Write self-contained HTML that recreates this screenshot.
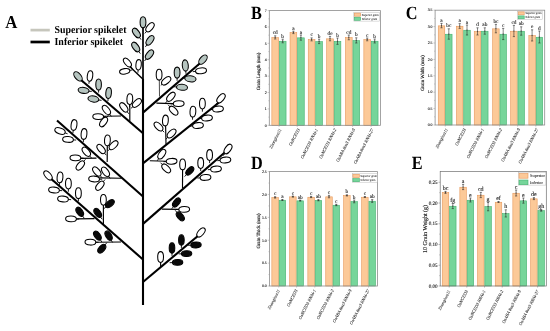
<!DOCTYPE html>
<html><head><meta charset="utf-8"><title>Figure</title>
<style>html,body{margin:0;padding:0;background:#fff}svg{display:block;text-rendering:geometricPrecision}</style></head>
<body><svg width="550" height="331" viewBox="0 0 550 331">
<rect width="550" height="331" fill="#fff"/>
<g id="panelA">
<line x1="143.0" y1="27" x2="143.0" y2="80" stroke="#000" stroke-width="1.7" stroke-linecap="butt"/>
<line x1="143.0" y1="79" x2="143.0" y2="305" stroke="#000" stroke-width="2.1" stroke-linecap="butt"/>
<line x1="80.5" y1="79.5" x2="143.0" y2="133.3" stroke="#000" stroke-width="2.1" stroke-linecap="butt"/>
<line x1="57" y1="120.5" x2="143.0" y2="196.5" stroke="#000" stroke-width="2.1" stroke-linecap="butt"/>
<line x1="48.5" y1="176.5" x2="143.0" y2="259.5" stroke="#000" stroke-width="2.1" stroke-linecap="butt"/>
<line x1="143.0" y1="112.6" x2="202" y2="61.5" stroke="#000" stroke-width="2.1" stroke-linecap="butt"/>
<line x1="143.0" y1="163.4" x2="219" y2="102.5" stroke="#000" stroke-width="2.1" stroke-linecap="butt"/>
<line x1="143.0" y1="223.9" x2="227" y2="150.5" stroke="#000" stroke-width="2.1" stroke-linecap="butt"/>
<line x1="143.0" y1="282" x2="199" y2="235" stroke="#000" stroke-width="2.1" stroke-linecap="butt"/>
<line x1="143.0" y1="79.3" x2="130" y2="66.7" stroke="#000" stroke-width="1.4" stroke-linecap="butt"/>
<line x1="129.8" y1="121" x2="129.8" y2="105" stroke="#000" stroke-width="1.15" stroke-linecap="butt"/>
<line x1="121" y1="116" x2="103" y2="116.3" stroke="#000" stroke-width="1.15" stroke-linecap="butt"/>
<line x1="159.5" y1="96.5" x2="159.3" y2="79" stroke="#000" stroke-width="0.7" stroke-linecap="butt"/>
<line x1="156.4" y1="103.1" x2="173" y2="103.6" stroke="#000" stroke-width="1.15" stroke-linecap="butt"/>
<line x1="107.2" y1="162" x2="107.3" y2="146" stroke="#000" stroke-width="1.15" stroke-linecap="butt"/>
<line x1="96.5" y1="158.1" x2="81" y2="158.4" stroke="#000" stroke-width="1.15" stroke-linecap="butt"/>
<line x1="121.5" y1="178.3" x2="99.5" y2="177.9" stroke="#000" stroke-width="1.15" stroke-linecap="butt"/>
<line x1="166" y1="144.2" x2="165.6" y2="125.4" stroke="#000" stroke-width="1.15" stroke-linecap="butt"/>
<line x1="149.8" y1="160.7" x2="166.4" y2="161.3" stroke="#000" stroke-width="1.15" stroke-linecap="butt"/>
<line x1="103.4" y1="224" x2="103.4" y2="205" stroke="#000" stroke-width="1.15" stroke-linecap="butt"/>
<line x1="94.5" y1="218.6" x2="76" y2="218.9" stroke="#000" stroke-width="1.15" stroke-linecap="butt"/>
<line x1="121" y1="242" x2="95.3" y2="242.2" stroke="#000" stroke-width="1.15" stroke-linecap="butt"/>
<line x1="182.5" y1="188" x2="182.6" y2="169.3" stroke="#000" stroke-width="1.15" stroke-linecap="butt"/>
<line x1="161.8" y1="209.1" x2="179" y2="209.4" stroke="#000" stroke-width="1.15" stroke-linecap="butt"/>
<line x1="160.7" y1="267" x2="160.6" y2="262" stroke="#000" stroke-width="1.15" stroke-linecap="butt"/>
<ellipse cx="143.0" cy="22.3" rx="2.90" ry="5.60" fill="#b6c5c0" stroke="#000" stroke-width="1.05" transform="rotate(0 143.0 22.3)"/>
<line x1="146.9" y1="31.0" x2="144.8" y2="33.4" stroke="#000" stroke-width="0.9"/>
<ellipse cx="150" cy="27.2" rx="2.90" ry="5.40" fill="#ffffff" stroke="#000" stroke-width="1.05" transform="rotate(40 150 27.2)"/>
<line x1="139.2" y1="37.0" x2="141.0" y2="39.6" stroke="#000" stroke-width="0.9"/>
<ellipse cx="136.4" cy="33" rx="2.90" ry="5.40" fill="#b6c5c0" stroke="#000" stroke-width="1.05" transform="rotate(-35 136.4 33)"/>
<line x1="147.2" y1="44.3" x2="145.4" y2="46.9" stroke="#000" stroke-width="0.9"/>
<ellipse cx="150" cy="40.3" rx="2.90" ry="5.40" fill="#b6c5c0" stroke="#000" stroke-width="1.05" transform="rotate(35 150 40.3)"/>
<line x1="138.5" y1="51.0" x2="140.3" y2="53.6" stroke="#000" stroke-width="0.9"/>
<ellipse cx="135.7" cy="47" rx="2.90" ry="5.40" fill="#b6c5c0" stroke="#000" stroke-width="1.05" transform="rotate(-35 135.7 47)"/>
<line x1="146.5" y1="58.5" x2="144.5" y2="61.0" stroke="#000" stroke-width="0.9"/>
<ellipse cx="149.5" cy="54.6" rx="2.90" ry="5.40" fill="#b6c5c0" stroke="#000" stroke-width="1.05" transform="rotate(38 149.5 54.6)"/>
<line x1="130.4" y1="66.1" x2="132.5" y2="68.6" stroke="#000" stroke-width="0.9"/>
<ellipse cx="127.4" cy="62.5" rx="2.70" ry="5.20" fill="#ffffff" stroke="#000" stroke-width="1.05" transform="rotate(-40 127.4 62.5)"/>
<line x1="138.2" y1="69.5" x2="137.9" y2="72.7" stroke="#000" stroke-width="0.9"/>
<ellipse cx="138.6" cy="64.8" rx="2.70" ry="5.20" fill="#ffffff" stroke="#000" stroke-width="1.05" transform="rotate(5 138.6 64.8)"/>
<line x1="129.3" y1="70.5" x2="132.5" y2="69.9" stroke="#000" stroke-width="0.9"/>
<ellipse cx="124.7" cy="71.3" rx="2.70" ry="5.20" fill="#ffffff" stroke="#000" stroke-width="1.05" transform="rotate(-100 124.7 71.3)"/>
<line x1="81.2" y1="80.2" x2="83.3" y2="82.7" stroke="#000" stroke-width="0.9"/>
<ellipse cx="78" cy="76.4" rx="3.00" ry="5.50" fill="#b6c5c0" stroke="#000" stroke-width="1.05" transform="rotate(-40 78 76.4)"/>
<line x1="89.3" y1="80.7" x2="88.9" y2="83.8" stroke="#000" stroke-width="0.9"/>
<ellipse cx="90" cy="76" rx="2.70" ry="5.20" fill="#ffffff" stroke="#000" stroke-width="1.05" transform="rotate(8 90 76)"/>
<line x1="98.6" y1="89.4" x2="98.6" y2="92.6" stroke="#000" stroke-width="0.9"/>
<ellipse cx="98.6" cy="84.4" rx="2.80" ry="5.50" fill="#b6c5c0" stroke="#000" stroke-width="1.05" transform="rotate(0 98.6 84.4)"/>
<line x1="108.2" y1="98.0" x2="107.9" y2="101.2" stroke="#000" stroke-width="0.9"/>
<ellipse cx="108.6" cy="93" rx="2.80" ry="5.50" fill="#b6c5c0" stroke="#000" stroke-width="1.05" transform="rotate(5 108.6 93)"/>
<line x1="88.6" y1="91.1" x2="91.7" y2="91.5" stroke="#000" stroke-width="0.9"/>
<ellipse cx="83.6" cy="90.4" rx="3.00" ry="5.50" fill="#b6c5c0" stroke="#000" stroke-width="1.05" transform="rotate(-82 83.6 90.4)"/>
<line x1="98.3" y1="99.9" x2="101.5" y2="100.4" stroke="#000" stroke-width="0.9"/>
<ellipse cx="93.4" cy="99" rx="3.00" ry="5.50" fill="#b6c5c0" stroke="#000" stroke-width="1.05" transform="rotate(-80 93.4 99)"/>
<line x1="129.6" y1="104.1" x2="129.5" y2="107.3" stroke="#000" stroke-width="0.9"/>
<ellipse cx="129.8" cy="99.2" rx="2.90" ry="5.40" fill="#ffffff" stroke="#000" stroke-width="1.05" transform="rotate(2 129.8 99.2)"/>
<line x1="133.3" y1="106.3" x2="130.9" y2="108.4" stroke="#000" stroke-width="0.9"/>
<ellipse cx="136.9" cy="103" rx="2.90" ry="5.40" fill="#ffffff" stroke="#000" stroke-width="1.05" transform="rotate(48 136.9 103)"/>
<line x1="126.8" y1="111.3" x2="128.8" y2="113.8" stroke="#000" stroke-width="0.9"/>
<ellipse cx="123.8" cy="107.4" rx="2.90" ry="5.40" fill="#ffffff" stroke="#000" stroke-width="1.05" transform="rotate(-38 123.8 107.4)"/>
<line x1="109.4" y1="113.9" x2="111.4" y2="116.4" stroke="#000" stroke-width="0.9"/>
<ellipse cx="106.4" cy="110" rx="2.90" ry="5.40" fill="#ffffff" stroke="#000" stroke-width="1.05" transform="rotate(-38 106.4 110)"/>
<line x1="103.1" y1="116.8" x2="106.3" y2="116.9" stroke="#000" stroke-width="0.9"/>
<ellipse cx="98.2" cy="116.6" rx="2.90" ry="5.40" fill="#ffffff" stroke="#000" stroke-width="1.05" transform="rotate(-88 98.2 116.6)"/>
<line x1="106.4" y1="118.0" x2="108.2" y2="115.4" stroke="#000" stroke-width="0.9"/>
<ellipse cx="103.6" cy="122" rx="2.90" ry="5.40" fill="#ffffff" stroke="#000" stroke-width="1.05" transform="rotate(-145 103.6 122)"/>
<line x1="199.8" y1="63.4" x2="197.7" y2="65.9" stroke="#000" stroke-width="0.9"/>
<ellipse cx="203" cy="59.6" rx="3.00" ry="5.50" fill="#b6c5c0" stroke="#000" stroke-width="1.05" transform="rotate(40 203 59.6)"/>
<line x1="185.7" y1="70.6" x2="186.0" y2="73.8" stroke="#000" stroke-width="0.9"/>
<ellipse cx="185.3" cy="65.5" rx="3.00" ry="5.65" fill="#b6c5c0" stroke="#000" stroke-width="1.05" transform="rotate(-5 185.3 65.5)"/>
<line x1="177.1" y1="77.6" x2="177.1" y2="80.8" stroke="#000" stroke-width="0.9"/>
<ellipse cx="177.1" cy="72.6" rx="2.90" ry="5.50" fill="#b6c5c0" stroke="#000" stroke-width="1.05" transform="rotate(0 177.1 72.6)"/>
<line x1="196.0" y1="71.3" x2="192.8" y2="71.7" stroke="#000" stroke-width="0.9"/>
<ellipse cx="201" cy="70.8" rx="2.90" ry="5.50" fill="#ffffff" stroke="#000" stroke-width="1.05" transform="rotate(84 201 70.8)"/>
<line x1="185.3" y1="78.2" x2="182.1" y2="77.8" stroke="#000" stroke-width="0.9"/>
<ellipse cx="190.4" cy="78.8" rx="3.00" ry="5.65" fill="#b6c5c0" stroke="#000" stroke-width="1.05" transform="rotate(97 190.4 78.8)"/>
<line x1="177.0" y1="87.0" x2="173.8" y2="86.7" stroke="#000" stroke-width="0.9"/>
<ellipse cx="182" cy="87.3" rx="3.00" ry="5.50" fill="#b6c5c0" stroke="#000" stroke-width="1.05" transform="rotate(94 182 87.3)"/>
<ellipse cx="159.1" cy="74.7" rx="2.90" ry="5.40" fill="#ffffff" stroke="#000" stroke-width="1.05" transform="rotate(0 159.1 74.7)"/>
<line x1="162.4" y1="83.9" x2="160.8" y2="85.4" stroke="#000" stroke-width="0.9"/>
<ellipse cx="166.2" cy="80.8" rx="2.90" ry="5.40" fill="#ffffff" stroke="#000" stroke-width="1.05" transform="rotate(50 166.2 80.8)"/>
<line x1="167.7" y1="100.5" x2="165.6" y2="102.9" stroke="#000" stroke-width="0.9"/>
<ellipse cx="170.9" cy="96.8" rx="2.90" ry="5.40" fill="#ffffff" stroke="#000" stroke-width="1.05" transform="rotate(41 170.9 96.8)"/>
<line x1="173.8" y1="103.8" x2="170.6" y2="103.9" stroke="#000" stroke-width="0.9"/>
<ellipse cx="178.7" cy="103.6" rx="2.90" ry="5.40" fill="#ffffff" stroke="#000" stroke-width="1.05" transform="rotate(88 178.7 103.6)"/>
<line x1="170.3" y1="107.1" x2="168.1" y2="104.8" stroke="#000" stroke-width="0.9"/>
<ellipse cx="173.6" cy="110.7" rx="2.90" ry="5.40" fill="#ffffff" stroke="#000" stroke-width="1.05" transform="rotate(137 173.6 110.7)"/>
<line x1="217.9" y1="102.1" x2="215.8" y2="104.5" stroke="#000" stroke-width="0.9"/>
<ellipse cx="221" cy="98.3" rx="2.90" ry="5.40" fill="#ffffff" stroke="#000" stroke-width="1.05" transform="rotate(40 221 98.3)"/>
<line x1="202.4" y1="108.5" x2="202.4" y2="111.7" stroke="#000" stroke-width="0.9"/>
<ellipse cx="202.4" cy="103.6" rx="2.90" ry="5.40" fill="#ffffff" stroke="#000" stroke-width="1.05" transform="rotate(0 202.4 103.6)"/>
<line x1="192.6" y1="116.5" x2="192.5" y2="119.7" stroke="#000" stroke-width="0.9"/>
<ellipse cx="192.9" cy="111.6" rx="2.90" ry="5.40" fill="#ffffff" stroke="#000" stroke-width="1.05" transform="rotate(3 192.9 111.6)"/>
<line x1="213.1" y1="109.4" x2="209.9" y2="109.7" stroke="#000" stroke-width="0.9"/>
<ellipse cx="218" cy="109" rx="2.90" ry="5.40" fill="#ffffff" stroke="#000" stroke-width="1.05" transform="rotate(85 218 109)"/>
<line x1="202.1" y1="118.4" x2="198.9" y2="118.7" stroke="#000" stroke-width="0.9"/>
<ellipse cx="207" cy="118" rx="2.90" ry="5.40" fill="#ffffff" stroke="#000" stroke-width="1.05" transform="rotate(85 207 118)"/>
<line x1="193.1" y1="125.9" x2="189.9" y2="126.2" stroke="#000" stroke-width="0.9"/>
<ellipse cx="198" cy="125.5" rx="2.90" ry="5.40" fill="#ffffff" stroke="#000" stroke-width="1.05" transform="rotate(85 198 125.5)"/>
<ellipse cx="165.4" cy="120.5" rx="2.90" ry="5.40" fill="#ffffff" stroke="#000" stroke-width="1.05" transform="rotate(4 165.4 120.5)"/>
<line x1="162.0" y1="130.0" x2="164.2" y2="132.2" stroke="#000" stroke-width="0.9"/>
<ellipse cx="158.5" cy="126.5" rx="2.90" ry="5.40" fill="#ffffff" stroke="#000" stroke-width="1.05" transform="rotate(-45 158.5 126.5)"/>
<line x1="168.1" y1="137.0" x2="165.9" y2="139.2" stroke="#000" stroke-width="0.9"/>
<ellipse cx="171.6" cy="133.5" rx="2.90" ry="5.40" fill="#ffffff" stroke="#000" stroke-width="1.05" transform="rotate(45 171.6 133.5)"/>
<line x1="159.0" y1="158.2" x2="157.2" y2="160.8" stroke="#000" stroke-width="0.9"/>
<ellipse cx="161.8" cy="154.2" rx="2.90" ry="5.40" fill="#ffffff" stroke="#000" stroke-width="1.05" transform="rotate(35 161.8 154.2)"/>
<line x1="166.7" y1="161.6" x2="163.5" y2="161.7" stroke="#000" stroke-width="0.9"/>
<ellipse cx="171.6" cy="161.3" rx="2.90" ry="5.40" fill="#ffffff" stroke="#000" stroke-width="1.05" transform="rotate(87 171.6 161.3)"/>
<line x1="162.7" y1="164.9" x2="160.5" y2="162.7" stroke="#000" stroke-width="0.9"/>
<ellipse cx="166.2" cy="168.4" rx="2.90" ry="5.40" fill="#ffffff" stroke="#000" stroke-width="1.05" transform="rotate(135 166.2 168.4)"/>
<line x1="73.3" y1="129.9" x2="72.9" y2="133.0" stroke="#000" stroke-width="0.9"/>
<ellipse cx="74" cy="125" rx="2.90" ry="5.40" fill="#ffffff" stroke="#000" stroke-width="1.05" transform="rotate(8 74 125)"/>
<line x1="83.6" y1="138.9" x2="83.3" y2="142.1" stroke="#000" stroke-width="0.9"/>
<ellipse cx="84" cy="134" rx="2.90" ry="5.40" fill="#ffffff" stroke="#000" stroke-width="1.05" transform="rotate(5 84 134)"/>
<line x1="64.6" y1="132.7" x2="67.6" y2="133.8" stroke="#000" stroke-width="0.9"/>
<ellipse cx="60" cy="131" rx="2.90" ry="5.40" fill="#ffffff" stroke="#000" stroke-width="1.05" transform="rotate(-70 60 131)"/>
<line x1="72.9" y1="139.8" x2="76.1" y2="140.1" stroke="#000" stroke-width="0.9"/>
<ellipse cx="68" cy="139.4" rx="2.90" ry="5.40" fill="#ffffff" stroke="#000" stroke-width="1.05" transform="rotate(-85 68 139.4)"/>
<ellipse cx="107.4" cy="140.3" rx="2.90" ry="5.40" fill="#ffffff" stroke="#000" stroke-width="1.05" transform="rotate(3 107.4 140.3)"/>
<line x1="110.1" y1="148.7" x2="107.9" y2="150.9" stroke="#000" stroke-width="0.9"/>
<ellipse cx="113.6" cy="145.2" rx="2.90" ry="5.40" fill="#ffffff" stroke="#000" stroke-width="1.05" transform="rotate(45 113.6 145.2)"/>
<line x1="104.2" y1="152.8" x2="106.3" y2="155.2" stroke="#000" stroke-width="0.9"/>
<ellipse cx="101.1" cy="149" rx="2.90" ry="5.40" fill="#ffffff" stroke="#000" stroke-width="1.05" transform="rotate(-40 101.1 149)"/>
<line x1="89.4" y1="155.6" x2="91.5" y2="158.0" stroke="#000" stroke-width="0.9"/>
<ellipse cx="86.3" cy="151.8" rx="2.90" ry="5.40" fill="#ffffff" stroke="#000" stroke-width="1.05" transform="rotate(-40 86.3 151.8)"/>
<line x1="80.3" y1="158.1" x2="83.5" y2="158.2" stroke="#000" stroke-width="0.9"/>
<ellipse cx="75.4" cy="157.9" rx="2.90" ry="5.40" fill="#ffffff" stroke="#000" stroke-width="1.05" transform="rotate(-88 75.4 157.9)"/>
<line x1="83.4" y1="161.7" x2="85.5" y2="159.3" stroke="#000" stroke-width="0.9"/>
<ellipse cx="80.3" cy="165.5" rx="2.90" ry="5.40" fill="#ffffff" stroke="#000" stroke-width="1.05" transform="rotate(-140 80.3 165.5)"/>
<line x1="99.9" y1="175.3" x2="102.0" y2="177.7" stroke="#000" stroke-width="0.9"/>
<ellipse cx="96.8" cy="171.5" rx="2.90" ry="5.40" fill="#ffffff" stroke="#000" stroke-width="1.05" transform="rotate(-40 96.8 171.5)"/>
<line x1="108.3" y1="175.8" x2="110.1" y2="178.4" stroke="#000" stroke-width="0.9"/>
<ellipse cx="105.5" cy="171.8" rx="2.90" ry="5.40" fill="#ffffff" stroke="#000" stroke-width="1.05" transform="rotate(-35 105.5 171.8)"/>
<line x1="99.0" y1="179.2" x2="102.2" y2="179.3" stroke="#000" stroke-width="0.9"/>
<ellipse cx="94.1" cy="179" rx="2.90" ry="5.40" fill="#ffffff" stroke="#000" stroke-width="1.05" transform="rotate(-88 94.1 179)"/>
<line x1="103.0" y1="181.9" x2="105.1" y2="179.5" stroke="#000" stroke-width="0.9"/>
<ellipse cx="99.9" cy="185.7" rx="2.90" ry="5.40" fill="#ffffff" stroke="#000" stroke-width="1.05" transform="rotate(-140 99.9 185.7)"/>
<line x1="225.2" y1="153.0" x2="223.4" y2="155.6" stroke="#000" stroke-width="0.9"/>
<ellipse cx="228" cy="149" rx="2.90" ry="5.40" fill="#ffffff" stroke="#000" stroke-width="1.05" transform="rotate(35 228 149)"/>
<line x1="209.6" y1="159.9" x2="209.6" y2="163.1" stroke="#000" stroke-width="0.9"/>
<ellipse cx="209.6" cy="155" rx="2.90" ry="5.40" fill="#ffffff" stroke="#000" stroke-width="1.05" transform="rotate(0 209.6 155)"/>
<line x1="200.7" y1="167.9" x2="200.7" y2="171.1" stroke="#000" stroke-width="0.9"/>
<ellipse cx="200.7" cy="163" rx="2.90" ry="5.40" fill="#ffffff" stroke="#000" stroke-width="1.05" transform="rotate(0 200.7 163)"/>
<line x1="220.5" y1="160.4" x2="217.3" y2="160.7" stroke="#000" stroke-width="0.9"/>
<ellipse cx="225.4" cy="160" rx="2.90" ry="5.40" fill="#ffffff" stroke="#000" stroke-width="1.05" transform="rotate(85 225.4 160)"/>
<line x1="211.1" y1="169.4" x2="207.9" y2="169.7" stroke="#000" stroke-width="0.9"/>
<ellipse cx="216" cy="169" rx="2.90" ry="5.40" fill="#ffffff" stroke="#000" stroke-width="1.05" transform="rotate(85 216 169)"/>
<line x1="200.6" y1="177.8" x2="197.4" y2="178.1" stroke="#000" stroke-width="0.9"/>
<ellipse cx="205.5" cy="177.4" rx="2.90" ry="5.40" fill="#ffffff" stroke="#000" stroke-width="1.05" transform="rotate(85 205.5 177.4)"/>
<ellipse cx="182.6" cy="164.4" rx="2.90" ry="5.40" fill="#ffffff" stroke="#000" stroke-width="1.05" transform="rotate(0 182.6 164.4)"/>
<line x1="186.8" y1="174.2" x2="184.6" y2="176.6" stroke="#000" stroke-width="0.9"/>
<ellipse cx="189.8" cy="170.9" rx="2.80" ry="5.00" fill="#0a0a0a" stroke="#000" stroke-width="1.05" transform="rotate(42 189.8 170.9)"/>
<line x1="173.7" y1="206.3" x2="171.7" y2="208.8" stroke="#000" stroke-width="0.9"/>
<ellipse cx="176.5" cy="202.5" rx="2.90" ry="5.20" fill="#0a0a0a" stroke="#000" stroke-width="1.05" transform="rotate(37 176.5 202.5)"/>
<line x1="179.3" y1="209.5" x2="176.1" y2="209.5" stroke="#000" stroke-width="0.9"/>
<ellipse cx="184.2" cy="209.4" rx="2.90" ry="5.40" fill="#ffffff" stroke="#000" stroke-width="1.05" transform="rotate(89 184.2 209.4)"/>
<line x1="177.3" y1="212.8" x2="175.2" y2="210.3" stroke="#000" stroke-width="0.9"/>
<ellipse cx="180.3" cy="216.4" rx="2.90" ry="5.20" fill="#0a0a0a" stroke="#000" stroke-width="1.05" transform="rotate(140 180.3 216.4)"/>
<line x1="51.1" y1="179.2" x2="53.2" y2="181.6" stroke="#000" stroke-width="0.9"/>
<ellipse cx="48" cy="175.4" rx="2.90" ry="5.40" fill="#ffffff" stroke="#000" stroke-width="1.05" transform="rotate(-40 48 175.4)"/>
<line x1="59.6" y1="182.3" x2="59.3" y2="185.5" stroke="#000" stroke-width="0.9"/>
<ellipse cx="60" cy="177.4" rx="2.90" ry="5.40" fill="#ffffff" stroke="#000" stroke-width="1.05" transform="rotate(5 60 177.4)"/>
<line x1="68.4" y1="188.5" x2="68.4" y2="191.7" stroke="#000" stroke-width="0.9"/>
<ellipse cx="68.4" cy="183.6" rx="2.90" ry="5.40" fill="#ffffff" stroke="#000" stroke-width="1.05" transform="rotate(0 68.4 183.6)"/>
<line x1="78.4" y1="198.1" x2="78.4" y2="201.3" stroke="#000" stroke-width="0.9"/>
<ellipse cx="78.4" cy="193.2" rx="2.90" ry="5.40" fill="#ffffff" stroke="#000" stroke-width="1.05" transform="rotate(0 78.4 193.2)"/>
<line x1="58.9" y1="190.4" x2="62.1" y2="190.7" stroke="#000" stroke-width="0.9"/>
<ellipse cx="54" cy="190" rx="2.90" ry="5.40" fill="#ffffff" stroke="#000" stroke-width="1.05" transform="rotate(-85 54 190)"/>
<line x1="67.9" y1="199.4" x2="71.1" y2="199.7" stroke="#000" stroke-width="0.9"/>
<ellipse cx="63" cy="199" rx="2.90" ry="5.40" fill="#ffffff" stroke="#000" stroke-width="1.05" transform="rotate(-85 63 199)"/>
<ellipse cx="103.4" cy="199.8" rx="2.90" ry="5.40" fill="#ffffff" stroke="#000" stroke-width="1.05" transform="rotate(0 103.4 199.8)"/>
<line x1="106.4" y1="206.6" x2="103.9" y2="208.6" stroke="#000" stroke-width="0.9"/>
<ellipse cx="109.9" cy="203.6" rx="2.90" ry="5.10" fill="#0a0a0a" stroke="#000" stroke-width="1.05" transform="rotate(50 109.9 203.6)"/>
<line x1="100.3" y1="216.7" x2="102.2" y2="219.3" stroke="#000" stroke-width="0.9"/>
<ellipse cx="97.7" cy="212.9" rx="2.90" ry="5.10" fill="#0a0a0a" stroke="#000" stroke-width="1.05" transform="rotate(-35 97.7 212.9)"/>
<line x1="82.3" y1="215.6" x2="84.2" y2="218.2" stroke="#000" stroke-width="0.9"/>
<ellipse cx="79.7" cy="211.8" rx="2.90" ry="5.10" fill="#0a0a0a" stroke="#000" stroke-width="1.05" transform="rotate(-35 79.7 211.8)"/>
<line x1="75.9" y1="219.0" x2="79.1" y2="219.0" stroke="#000" stroke-width="0.9"/>
<ellipse cx="71" cy="218.9" rx="2.90" ry="5.40" fill="#ffffff" stroke="#000" stroke-width="1.05" transform="rotate(-89 71 218.9)"/>
<line x1="100.0" y1="239.4" x2="101.9" y2="242.0" stroke="#000" stroke-width="0.9"/>
<ellipse cx="97.4" cy="235.6" rx="2.90" ry="5.10" fill="#0a0a0a" stroke="#000" stroke-width="1.05" transform="rotate(-35 97.4 235.6)"/>
<line x1="110.9" y1="239.6" x2="112.5" y2="242.4" stroke="#000" stroke-width="0.9"/>
<ellipse cx="108.6" cy="235.6" rx="2.90" ry="5.10" fill="#0a0a0a" stroke="#000" stroke-width="1.05" transform="rotate(-30 108.6 235.6)"/>
<line x1="95.3" y1="242.3" x2="98.5" y2="242.3" stroke="#000" stroke-width="0.9"/>
<ellipse cx="90.4" cy="242.2" rx="2.90" ry="5.40" fill="#ffffff" stroke="#000" stroke-width="1.05" transform="rotate(-89 90.4 242.2)"/>
<line x1="104.8" y1="245.2" x2="106.8" y2="242.7" stroke="#000" stroke-width="0.9"/>
<ellipse cx="101.8" cy="248.7" rx="2.90" ry="5.10" fill="#0a0a0a" stroke="#000" stroke-width="1.05" transform="rotate(-140 101.8 248.7)"/>
<line x1="197.9" y1="236.2" x2="195.8" y2="238.6" stroke="#000" stroke-width="0.9"/>
<ellipse cx="201" cy="232.4" rx="2.90" ry="5.40" fill="#ffffff" stroke="#000" stroke-width="1.05" transform="rotate(40 201 232.4)"/>
<line x1="181.4" y1="244.7" x2="181.4" y2="247.9" stroke="#000" stroke-width="0.9"/>
<ellipse cx="181.4" cy="240" rx="2.80" ry="5.20" fill="#0a0a0a" stroke="#000" stroke-width="1.05" transform="rotate(0 181.4 240)"/>
<line x1="172.0" y1="252.7" x2="172.0" y2="255.9" stroke="#000" stroke-width="0.9"/>
<ellipse cx="172" cy="248" rx="2.80" ry="5.20" fill="#0a0a0a" stroke="#000" stroke-width="1.05" transform="rotate(0 172 248)"/>
<ellipse cx="160.6" cy="257" rx="2.90" ry="5.40" fill="#ffffff" stroke="#000" stroke-width="1.05" transform="rotate(0 160.6 257)"/>
<line x1="191.3" y1="245.2" x2="188.1" y2="245.3" stroke="#000" stroke-width="0.9"/>
<ellipse cx="196" cy="245" rx="2.90" ry="5.20" fill="#0a0a0a" stroke="#000" stroke-width="1.05" transform="rotate(88 196 245)"/>
<line x1="181.9" y1="253.8" x2="178.7" y2="253.9" stroke="#000" stroke-width="0.9"/>
<ellipse cx="186.6" cy="253.6" rx="2.90" ry="5.20" fill="#0a0a0a" stroke="#000" stroke-width="1.05" transform="rotate(88 186.6 253.6)"/>
<line x1="172.9" y1="262.6" x2="169.7" y2="262.7" stroke="#000" stroke-width="0.9"/>
<ellipse cx="177.6" cy="262.4" rx="2.90" ry="5.20" fill="#0a0a0a" stroke="#000" stroke-width="1.05" transform="rotate(88 177.6 262.4)"/>
</g>
<text transform="translate(5.2 27.8) scale(0.93 1)" font-family="Liberation Serif, serif" font-weight="bold" font-size="18">A</text>
<line x1="30.5" y1="30.1" x2="49.8" y2="30.1" stroke="#c6c6bc" stroke-width="2.7"/>
<line x1="30.5" y1="42" x2="49.8" y2="42" stroke="#000" stroke-width="2.7"/>
<text x="54.5" y="32.6" font-family="Liberation Serif, serif" font-weight="bold" font-size="10.6" textLength="72" lengthAdjust="spacingAndGlyphs">Superior spikelet</text>
<text x="54.5" y="44.6" font-family="Liberation Serif, serif" font-weight="bold" font-size="10.6" textLength="68.5" lengthAdjust="spacingAndGlyphs">Inferior spikelet</text>
<text transform="translate(251.0 18.9) scale(0.87 1)" font-family="Liberation Serif, serif" font-weight="bold" font-size="18.7">B</text>
<rect x="271.85" y="37.65" width="6.7" height="87.65" fill="#fcc998" stroke="#e6975a" stroke-width="0.6"/>
<rect x="279.35" y="41.25" width="6.7" height="84.05" fill="#76d59a" stroke="#43b06e" stroke-width="0.6"/>
<path d="M275.2 35.8V39.0M274.1 35.8h2.2M274.1 39.0h2.2M274.6 37.4h1.2" stroke="#222" stroke-width="0.55" fill="none"/>
<path d="M282.7 39.2V42.8M281.6 39.2h2.2M281.6 42.8h2.2M282.1 41.0h1.2" stroke="#222" stroke-width="0.55" fill="none"/>
<text x="275.2" y="34.3" font-family="Liberation Serif, serif" font-size="5.3" text-anchor="middle" fill="#222" stroke="#222" stroke-width="0.12">cd</text>
<text x="282.7" y="37.7" font-family="Liberation Serif, serif" font-size="5.3" text-anchor="middle" fill="#222" stroke="#222" stroke-width="0.12">b</text>
<text transform="translate(281.7 129.5) rotate(-63)" font-family="Liberation Serif, serif" font-style="italic" font-size="4.4" text-anchor="end" fill="#1a1a1a" stroke="#1a1a1a" stroke-width="0.06">Zhonghua11</text>
<line x1="279.0" y1="125.3" x2="279.0" y2="126.89999999999999" stroke="#8c8c8c" stroke-width="0.45"/>
<rect x="290.05" y="32.65" width="6.7" height="92.65" fill="#fcc998" stroke="#e6975a" stroke-width="0.6"/>
<rect x="297.55" y="37.85" width="6.7" height="87.45" fill="#76d59a" stroke="#43b06e" stroke-width="0.6"/>
<path d="M293.4 31.2V33.6M292.3 31.2h2.2M292.3 33.6h2.2M292.8 32.4h1.2" stroke="#222" stroke-width="0.55" fill="none"/>
<path d="M300.9 35.0V40.2M299.8 35.0h2.2M299.8 40.2h2.2M300.3 37.6h1.2" stroke="#222" stroke-width="0.55" fill="none"/>
<text x="293.4" y="29.7" font-family="Liberation Serif, serif" font-size="5.3" text-anchor="middle" fill="#222" stroke="#222" stroke-width="0.12">a</text>
<text x="300.9" y="33.5" font-family="Liberation Serif, serif" font-size="5.3" text-anchor="middle" fill="#222" stroke="#222" stroke-width="0.12">a</text>
<text transform="translate(299.9 129.5) rotate(-63)" font-family="Liberation Serif, serif" font-style="italic" font-size="4.4" text-anchor="end" fill="#1a1a1a" stroke="#1a1a1a" stroke-width="0.06">OsNCED3</text>
<line x1="297.2" y1="125.3" x2="297.2" y2="126.89999999999999" stroke="#8c8c8c" stroke-width="0.45"/>
<rect x="308.25" y="39.65" width="6.7" height="85.65" fill="#fcc998" stroke="#e6975a" stroke-width="0.6"/>
<rect x="315.75" y="41.65" width="6.7" height="83.65" fill="#76d59a" stroke="#43b06e" stroke-width="0.6"/>
<path d="M311.6 37.9V40.9M310.5 37.9h2.2M310.5 40.9h2.2M311.0 39.4h1.2" stroke="#222" stroke-width="0.55" fill="none"/>
<path d="M319.1 39.2V43.6M318.0 39.2h2.2M318.0 43.6h2.2M318.5 41.4h1.2" stroke="#222" stroke-width="0.55" fill="none"/>
<text x="311.6" y="36.4" font-family="Liberation Serif, serif" font-size="5.3" text-anchor="middle" fill="#222" stroke="#222" stroke-width="0.12">c</text>
<text x="319.1" y="37.7" font-family="Liberation Serif, serif" font-size="5.3" text-anchor="middle" fill="#222" stroke="#222" stroke-width="0.12">b</text>
<text transform="translate(318.1 129.5) rotate(-63)" font-family="Liberation Serif, serif" font-style="italic" font-size="4.4" text-anchor="end" fill="#1a1a1a" stroke="#1a1a1a" stroke-width="0.06">OsNCED3 RNAi-1</text>
<line x1="315.4" y1="125.3" x2="315.4" y2="126.89999999999999" stroke="#8c8c8c" stroke-width="0.45"/>
<rect x="326.65" y="38.85" width="6.7" height="86.45" fill="#fcc998" stroke="#e6975a" stroke-width="0.6"/>
<rect x="334.15" y="41.45" width="6.7" height="83.85" fill="#76d59a" stroke="#43b06e" stroke-width="0.6"/>
<path d="M330.0 36.4V40.8M328.9 36.4h2.2M328.9 40.8h2.2M329.4 38.6h1.2" stroke="#222" stroke-width="0.55" fill="none"/>
<path d="M337.5 38.0V44.4M336.4 38.0h2.2M336.4 44.4h2.2M336.9 41.2h1.2" stroke="#222" stroke-width="0.55" fill="none"/>
<text x="330.0" y="34.9" font-family="Liberation Serif, serif" font-size="5.3" text-anchor="middle" fill="#222" stroke="#222" stroke-width="0.12">de</text>
<text x="337.5" y="36.5" font-family="Liberation Serif, serif" font-size="5.3" text-anchor="middle" fill="#222" stroke="#222" stroke-width="0.12">b</text>
<text transform="translate(336.5 129.5) rotate(-63)" font-family="Liberation Serif, serif" font-style="italic" font-size="4.4" text-anchor="end" fill="#1a1a1a" stroke="#1a1a1a" stroke-width="0.06">OsNCED3 RNAi-2</text>
<line x1="333.8" y1="125.3" x2="333.8" y2="126.89999999999999" stroke="#8c8c8c" stroke-width="0.45"/>
<rect x="345.45" y="37.65" width="6.7" height="87.65" fill="#fcc998" stroke="#e6975a" stroke-width="0.6"/>
<rect x="352.95" y="40.65" width="6.7" height="84.65" fill="#76d59a" stroke="#43b06e" stroke-width="0.6"/>
<path d="M348.8 35.0V39.8M347.7 35.0h2.2M347.7 39.8h2.2M348.2 37.4h1.2" stroke="#222" stroke-width="0.55" fill="none"/>
<path d="M356.3 37.8V43.0M355.2 37.8h2.2M355.2 43.0h2.2M355.7 40.4h1.2" stroke="#222" stroke-width="0.55" fill="none"/>
<text x="348.8" y="33.5" font-family="Liberation Serif, serif" font-size="5.3" text-anchor="middle" fill="#222" stroke="#222" stroke-width="0.12">cd</text>
<text x="356.3" y="36.3" font-family="Liberation Serif, serif" font-size="5.3" text-anchor="middle" fill="#222" stroke="#222" stroke-width="0.12">b</text>
<text transform="translate(355.3 129.5) rotate(-63)" font-family="Liberation Serif, serif" font-style="italic" font-size="4.4" text-anchor="end" fill="#1a1a1a" stroke="#1a1a1a" stroke-width="0.06">OsABA 8ox3 RNAi-9</text>
<line x1="352.6" y1="125.3" x2="352.6" y2="126.89999999999999" stroke="#8c8c8c" stroke-width="0.45"/>
<rect x="363.85" y="39.65" width="6.7" height="85.65" fill="#fcc998" stroke="#e6975a" stroke-width="0.6"/>
<rect x="371.35" y="41.25" width="6.7" height="84.05" fill="#76d59a" stroke="#43b06e" stroke-width="0.6"/>
<path d="M367.2 38.0V40.8M366.1 38.0h2.2M366.1 40.8h2.2M366.6 39.4h1.2" stroke="#222" stroke-width="0.55" fill="none"/>
<path d="M374.7 39.0V43.0M373.6 39.0h2.2M373.6 43.0h2.2M374.1 41.0h1.2" stroke="#222" stroke-width="0.55" fill="none"/>
<text x="367.2" y="36.5" font-family="Liberation Serif, serif" font-size="5.3" text-anchor="middle" fill="#222" stroke="#222" stroke-width="0.12">c</text>
<text x="374.7" y="37.5" font-family="Liberation Serif, serif" font-size="5.3" text-anchor="middle" fill="#222" stroke="#222" stroke-width="0.12">b</text>
<text transform="translate(373.7 129.5) rotate(-63)" font-family="Liberation Serif, serif" font-style="italic" font-size="4.4" text-anchor="end" fill="#1a1a1a" stroke="#1a1a1a" stroke-width="0.06">OsABA 8ox3 RNAi-27</text>
<line x1="371.0" y1="125.3" x2="371.0" y2="126.89999999999999" stroke="#8c8c8c" stroke-width="0.45"/>
<rect x="269.3" y="10.6" width="111.30000000000001" height="114.7" fill="none" stroke="#8c8c8c" stroke-width="0.8"/>
<line x1="267.6" y1="125.30" x2="269.3" y2="125.30" stroke="#8c8c8c" stroke-width="0.45"/>
<line x1="268.3" y1="117.11" x2="269.3" y2="117.11" stroke="#8c8c8c" stroke-width="0.4"/>
<text x="266.7" y="126.5" font-family="Liberation Serif, serif" font-size="3.9" text-anchor="end" fill="#222" stroke="#222" stroke-width="0.12">0</text>
<line x1="267.6" y1="108.91" x2="269.3" y2="108.91" stroke="#8c8c8c" stroke-width="0.45"/>
<line x1="268.3" y1="100.72" x2="269.3" y2="100.72" stroke="#8c8c8c" stroke-width="0.4"/>
<text x="266.7" y="110.2" font-family="Liberation Serif, serif" font-size="3.9" text-anchor="end" fill="#222" stroke="#222" stroke-width="0.12">1</text>
<line x1="267.6" y1="92.53" x2="269.3" y2="92.53" stroke="#8c8c8c" stroke-width="0.45"/>
<line x1="268.3" y1="84.34" x2="269.3" y2="84.34" stroke="#8c8c8c" stroke-width="0.4"/>
<text x="266.7" y="93.8" font-family="Liberation Serif, serif" font-size="3.9" text-anchor="end" fill="#222" stroke="#222" stroke-width="0.12">2</text>
<line x1="267.6" y1="76.14" x2="269.3" y2="76.14" stroke="#8c8c8c" stroke-width="0.45"/>
<line x1="268.3" y1="67.95" x2="269.3" y2="67.95" stroke="#8c8c8c" stroke-width="0.4"/>
<text x="266.7" y="77.4" font-family="Liberation Serif, serif" font-size="3.9" text-anchor="end" fill="#222" stroke="#222" stroke-width="0.12">3</text>
<line x1="267.6" y1="59.76" x2="269.3" y2="59.76" stroke="#8c8c8c" stroke-width="0.45"/>
<line x1="268.3" y1="51.56" x2="269.3" y2="51.56" stroke="#8c8c8c" stroke-width="0.4"/>
<text x="266.7" y="61.0" font-family="Liberation Serif, serif" font-size="3.9" text-anchor="end" fill="#222" stroke="#222" stroke-width="0.12">4</text>
<line x1="267.6" y1="43.37" x2="269.3" y2="43.37" stroke="#8c8c8c" stroke-width="0.45"/>
<line x1="268.3" y1="35.18" x2="269.3" y2="35.18" stroke="#8c8c8c" stroke-width="0.4"/>
<text x="266.7" y="44.6" font-family="Liberation Serif, serif" font-size="3.9" text-anchor="end" fill="#222" stroke="#222" stroke-width="0.12">5</text>
<line x1="267.6" y1="26.99" x2="269.3" y2="26.99" stroke="#8c8c8c" stroke-width="0.45"/>
<line x1="268.3" y1="18.79" x2="269.3" y2="18.79" stroke="#8c8c8c" stroke-width="0.4"/>
<text x="266.7" y="28.2" font-family="Liberation Serif, serif" font-size="3.9" text-anchor="end" fill="#222" stroke="#222" stroke-width="0.12">6</text>
<line x1="267.6" y1="10.60" x2="269.3" y2="10.60" stroke="#8c8c8c" stroke-width="0.45"/>
<text x="266.7" y="11.8" font-family="Liberation Serif, serif" font-size="3.9" text-anchor="end" fill="#222" stroke="#222" stroke-width="0.12">7</text>
<text transform="translate(260.4 71.5) rotate(-90)" font-family="Liberation Serif, serif" font-size="4.8" text-anchor="middle" fill="#1a1a1a" stroke="#1a1a1a" stroke-width="0.15">Grain Length (mm)</text>
<rect x="353.8" y="12.5" width="25.5" height="8.6" fill="#fff" stroke="#b5b5b5" stroke-width="0.45"/>
<rect x="354.3" y="13.1" width="6.4" height="3.1" fill="#fcc998" stroke="#e6975a" stroke-width="0.6"/>
<rect x="354.3" y="17.2" width="6.4" height="3.1" fill="#76d59a" stroke="#43b06e" stroke-width="0.6"/>
<text x="361.8" y="15.56" font-family="Liberation Serif, serif" font-size="3.05" fill="#222" stroke="#222" stroke-width="0.06" textLength="16.9" lengthAdjust="spacingAndGlyphs">Superior grain</text>
<text x="361.8" y="19.66" font-family="Liberation Serif, serif" font-size="3.05" fill="#222" stroke="#222" stroke-width="0.06" textLength="15.38" lengthAdjust="spacingAndGlyphs">Inferior grain</text>
<text transform="translate(405.8 18.8) scale(0.87 1)" font-family="Liberation Serif, serif" font-weight="bold" font-size="18.7">C</text>
<rect x="438.25" y="25.85" width="6.5" height="99.15" fill="#fcc998" stroke="#e6975a" stroke-width="0.6"/>
<rect x="445.55" y="34.25" width="6.5" height="90.75" fill="#76d59a" stroke="#43b06e" stroke-width="0.6"/>
<path d="M441.5 23.4V27.8M440.4 23.4h2.2M440.4 27.8h2.2M440.9 25.6h1.2" stroke="#222" stroke-width="0.55" fill="none"/>
<path d="M448.8 28.8V39.2M447.7 28.8h2.2M447.7 39.2h2.2M448.2 34.0h1.2" stroke="#222" stroke-width="0.55" fill="none"/>
<text x="441.5" y="21.9" font-family="Liberation Serif, serif" font-size="5.3" text-anchor="middle" fill="#222" stroke="#222" stroke-width="0.12">a</text>
<text x="448.8" y="27.3" font-family="Liberation Serif, serif" font-size="5.3" text-anchor="middle" fill="#222" stroke="#222" stroke-width="0.12">bc</text>
<text transform="translate(447.9 129.2) rotate(-63)" font-family="Liberation Serif, serif" font-style="italic" font-size="4.4" text-anchor="end" fill="#1a1a1a" stroke="#1a1a1a" stroke-width="0.06">Zhonghua11</text>
<line x1="445.2" y1="125" x2="445.2" y2="126.6" stroke="#8c8c8c" stroke-width="0.45"/>
<rect x="456.45" y="26.25" width="6.5" height="98.75" fill="#fcc998" stroke="#e6975a" stroke-width="0.6"/>
<rect x="463.75" y="30.25" width="6.5" height="94.75" fill="#76d59a" stroke="#43b06e" stroke-width="0.6"/>
<path d="M459.7 23.6V28.4M458.6 23.6h2.2M458.6 28.4h2.2M459.1 26.0h1.2" stroke="#222" stroke-width="0.55" fill="none"/>
<path d="M467.0 25.0V35.0M465.9 25.0h2.2M465.9 35.0h2.2M466.4 30.0h1.2" stroke="#222" stroke-width="0.55" fill="none"/>
<text x="459.7" y="22.1" font-family="Liberation Serif, serif" font-size="5.3" text-anchor="middle" fill="#222" stroke="#222" stroke-width="0.12">a</text>
<text x="467.0" y="23.5" font-family="Liberation Serif, serif" font-size="5.3" text-anchor="middle" fill="#222" stroke="#222" stroke-width="0.12">a</text>
<text transform="translate(466.1 129.2) rotate(-63)" font-family="Liberation Serif, serif" font-style="italic" font-size="4.4" text-anchor="end" fill="#1a1a1a" stroke="#1a1a1a" stroke-width="0.06">OsNCED3</text>
<line x1="463.4" y1="125" x2="463.4" y2="126.6" stroke="#8c8c8c" stroke-width="0.45"/>
<rect x="474.25" y="31.65" width="6.5" height="93.35" fill="#fcc998" stroke="#e6975a" stroke-width="0.6"/>
<rect x="481.55" y="31.25" width="6.5" height="93.75" fill="#76d59a" stroke="#43b06e" stroke-width="0.6"/>
<path d="M477.5 27.8V35.0M476.4 27.8h2.2M476.4 35.0h2.2M476.9 31.4h1.2" stroke="#222" stroke-width="0.55" fill="none"/>
<path d="M484.8 27.8V34.2M483.7 27.8h2.2M483.7 34.2h2.2M484.2 31.0h1.2" stroke="#222" stroke-width="0.55" fill="none"/>
<text x="477.5" y="26.3" font-family="Liberation Serif, serif" font-size="5.3" text-anchor="middle" fill="#222" stroke="#222" stroke-width="0.12">d</text>
<text x="484.8" y="26.3" font-family="Liberation Serif, serif" font-size="5.3" text-anchor="middle" fill="#222" stroke="#222" stroke-width="0.12">ab</text>
<text transform="translate(483.9 129.2) rotate(-63)" font-family="Liberation Serif, serif" font-style="italic" font-size="4.4" text-anchor="end" fill="#1a1a1a" stroke="#1a1a1a" stroke-width="0.06">OsNCED3 RNAi-1</text>
<line x1="481.2" y1="125" x2="481.2" y2="126.6" stroke="#8c8c8c" stroke-width="0.45"/>
<rect x="492.65" y="28.85" width="6.5" height="96.15" fill="#fcc998" stroke="#e6975a" stroke-width="0.6"/>
<rect x="499.95" y="34.25" width="6.5" height="90.75" fill="#76d59a" stroke="#43b06e" stroke-width="0.6"/>
<path d="M495.9 24.4V32.8M494.8 24.4h2.2M494.8 32.8h2.2M495.3 28.6h1.2" stroke="#222" stroke-width="0.55" fill="none"/>
<path d="M503.2 28.4V39.6M502.1 28.4h2.2M502.1 39.6h2.2M502.6 34.0h1.2" stroke="#222" stroke-width="0.55" fill="none"/>
<text x="495.9" y="22.9" font-family="Liberation Serif, serif" font-size="5.3" text-anchor="middle" fill="#222" stroke="#222" stroke-width="0.12">bc</text>
<text x="503.2" y="26.9" font-family="Liberation Serif, serif" font-size="5.3" text-anchor="middle" fill="#222" stroke="#222" stroke-width="0.12">c</text>
<text transform="translate(502.3 129.2) rotate(-63)" font-family="Liberation Serif, serif" font-style="italic" font-size="4.4" text-anchor="end" fill="#1a1a1a" stroke="#1a1a1a" stroke-width="0.06">OsNCED3 RNAi-2</text>
<line x1="499.6" y1="125" x2="499.6" y2="126.6" stroke="#8c8c8c" stroke-width="0.45"/>
<rect x="510.65" y="31.25" width="6.5" height="93.75" fill="#fcc998" stroke="#e6975a" stroke-width="0.6"/>
<rect x="517.95" y="31.25" width="6.5" height="93.75" fill="#76d59a" stroke="#43b06e" stroke-width="0.6"/>
<path d="M513.9 25.4V36.6M512.8 25.4h2.2M512.8 36.6h2.2M513.3 31.0h1.2" stroke="#222" stroke-width="0.55" fill="none"/>
<path d="M521.2 26.8V35.2M520.1 26.8h2.2M520.1 35.2h2.2M520.6 31.0h1.2" stroke="#222" stroke-width="0.55" fill="none"/>
<text x="513.9" y="23.9" font-family="Liberation Serif, serif" font-size="5.3" text-anchor="middle" fill="#222" stroke="#222" stroke-width="0.12">cd</text>
<text x="521.2" y="25.3" font-family="Liberation Serif, serif" font-size="5.3" text-anchor="middle" fill="#222" stroke="#222" stroke-width="0.12">ab</text>
<text transform="translate(520.3 129.2) rotate(-63)" font-family="Liberation Serif, serif" font-style="italic" font-size="4.4" text-anchor="end" fill="#1a1a1a" stroke="#1a1a1a" stroke-width="0.06">OsABA 8ox3 RNAi-9</text>
<line x1="517.6" y1="125" x2="517.6" y2="126.6" stroke="#8c8c8c" stroke-width="0.45"/>
<rect x="528.85" y="35.65" width="6.5" height="89.35" fill="#fcc998" stroke="#e6975a" stroke-width="0.6"/>
<rect x="536.15" y="37.25" width="6.5" height="87.75" fill="#76d59a" stroke="#43b06e" stroke-width="0.6"/>
<path d="M532.1 29.8V41.0M531.0 29.8h2.2M531.0 41.0h2.2M531.5 35.4h1.2" stroke="#222" stroke-width="0.55" fill="none"/>
<path d="M539.4 31.0V43.0M538.3 31.0h2.2M538.3 43.0h2.2M538.8 37.0h1.2" stroke="#222" stroke-width="0.55" fill="none"/>
<text x="532.1" y="28.3" font-family="Liberation Serif, serif" font-size="5.3" text-anchor="middle" fill="#222" stroke="#222" stroke-width="0.12">e</text>
<text x="539.4" y="29.5" font-family="Liberation Serif, serif" font-size="5.3" text-anchor="middle" fill="#222" stroke="#222" stroke-width="0.12">d</text>
<text transform="translate(538.5 129.2) rotate(-63)" font-family="Liberation Serif, serif" font-style="italic" font-size="4.4" text-anchor="end" fill="#1a1a1a" stroke="#1a1a1a" stroke-width="0.06">OsABA 8ox3 RNAi-27</text>
<line x1="535.8" y1="125" x2="535.8" y2="126.6" stroke="#8c8c8c" stroke-width="0.45"/>
<rect x="435.1" y="10.2" width="109.60000000000002" height="114.8" fill="none" stroke="#8c8c8c" stroke-width="0.8"/>
<line x1="433.40000000000003" y1="125.00" x2="435.1" y2="125.00" stroke="#8c8c8c" stroke-width="0.45"/>
<line x1="434.1" y1="116.80" x2="435.1" y2="116.80" stroke="#8c8c8c" stroke-width="0.4"/>
<text x="432.5" y="126.2" font-family="Liberation Serif, serif" font-size="3.9" text-anchor="end" fill="#222" stroke="#222" stroke-width="0.12">0.0</text>
<line x1="433.40000000000003" y1="108.60" x2="435.1" y2="108.60" stroke="#8c8c8c" stroke-width="0.45"/>
<line x1="434.1" y1="100.40" x2="435.1" y2="100.40" stroke="#8c8c8c" stroke-width="0.4"/>
<text x="432.5" y="109.8" font-family="Liberation Serif, serif" font-size="3.9" text-anchor="end" fill="#222" stroke="#222" stroke-width="0.12">0.5</text>
<line x1="433.40000000000003" y1="92.20" x2="435.1" y2="92.20" stroke="#8c8c8c" stroke-width="0.45"/>
<line x1="434.1" y1="84.00" x2="435.1" y2="84.00" stroke="#8c8c8c" stroke-width="0.4"/>
<text x="432.5" y="93.4" font-family="Liberation Serif, serif" font-size="3.9" text-anchor="end" fill="#222" stroke="#222" stroke-width="0.12">1.0</text>
<line x1="433.40000000000003" y1="75.80" x2="435.1" y2="75.80" stroke="#8c8c8c" stroke-width="0.45"/>
<line x1="434.1" y1="67.60" x2="435.1" y2="67.60" stroke="#8c8c8c" stroke-width="0.4"/>
<text x="432.5" y="77.0" font-family="Liberation Serif, serif" font-size="3.9" text-anchor="end" fill="#222" stroke="#222" stroke-width="0.12">1.5</text>
<line x1="433.40000000000003" y1="59.40" x2="435.1" y2="59.40" stroke="#8c8c8c" stroke-width="0.45"/>
<line x1="434.1" y1="51.20" x2="435.1" y2="51.20" stroke="#8c8c8c" stroke-width="0.4"/>
<text x="432.5" y="60.6" font-family="Liberation Serif, serif" font-size="3.9" text-anchor="end" fill="#222" stroke="#222" stroke-width="0.12">2.0</text>
<line x1="433.40000000000003" y1="43.00" x2="435.1" y2="43.00" stroke="#8c8c8c" stroke-width="0.45"/>
<line x1="434.1" y1="34.80" x2="435.1" y2="34.80" stroke="#8c8c8c" stroke-width="0.4"/>
<text x="432.5" y="44.2" font-family="Liberation Serif, serif" font-size="3.9" text-anchor="end" fill="#222" stroke="#222" stroke-width="0.12">2.5</text>
<line x1="433.40000000000003" y1="26.60" x2="435.1" y2="26.60" stroke="#8c8c8c" stroke-width="0.45"/>
<line x1="434.1" y1="18.40" x2="435.1" y2="18.40" stroke="#8c8c8c" stroke-width="0.4"/>
<text x="432.5" y="27.8" font-family="Liberation Serif, serif" font-size="3.9" text-anchor="end" fill="#222" stroke="#222" stroke-width="0.12">3.0</text>
<line x1="433.40000000000003" y1="10.20" x2="435.1" y2="10.20" stroke="#8c8c8c" stroke-width="0.45"/>
<text x="432.5" y="11.4" font-family="Liberation Serif, serif" font-size="3.9" text-anchor="end" fill="#222" stroke="#222" stroke-width="0.12">3.5</text>
<text transform="translate(423.9 73.0) rotate(-90)" font-family="Liberation Serif, serif" font-size="4.8" text-anchor="middle" fill="#1a1a1a" stroke="#1a1a1a" stroke-width="0.15">Grain Width (mm)</text>
<rect x="517.4" y="11.2" width="24.8" height="8.3" fill="#fff" stroke="#b5b5b5" stroke-width="0.45"/>
<rect x="518.2" y="11.9" width="6.0" height="2.9" fill="#fcc998" stroke="#e6975a" stroke-width="0.6"/>
<rect x="518.2" y="15.9" width="6.0" height="2.9" fill="#76d59a" stroke="#43b06e" stroke-width="0.6"/>
<text x="525.4" y="14.26" font-family="Liberation Serif, serif" font-size="3.05" fill="#222" stroke="#222" stroke-width="0.06" textLength="16.3" lengthAdjust="spacingAndGlyphs">Superior grain</text>
<text x="525.4" y="18.27" font-family="Liberation Serif, serif" font-size="3.05" fill="#222" stroke="#222" stroke-width="0.06" textLength="14.83" lengthAdjust="spacingAndGlyphs">Inferior grain</text>
<text transform="translate(251.0 168.9) scale(0.87 1)" font-family="Liberation Serif, serif" font-weight="bold" font-size="18.7">D</text>
<rect x="271.85" y="197.65" width="6.5" height="88.35" fill="#fcc998" stroke="#e6975a" stroke-width="0.6"/>
<rect x="279.15" y="200.25" width="6.5" height="85.75" fill="#76d59a" stroke="#43b06e" stroke-width="0.6"/>
<path d="M275.1 196.7V198.1M274.0 196.7h2.2M274.0 198.1h2.2M274.5 197.4h1.2" stroke="#222" stroke-width="0.55" fill="none"/>
<path d="M282.4 199.5V200.5M281.3 199.5h2.2M281.3 200.5h2.2M281.8 200.0h1.2" stroke="#222" stroke-width="0.55" fill="none"/>
<text x="275.1" y="195.2" font-family="Liberation Serif, serif" font-size="5.3" text-anchor="middle" fill="#222" stroke="#222" stroke-width="0.12">c</text>
<text x="282.4" y="198.0" font-family="Liberation Serif, serif" font-size="5.3" text-anchor="middle" fill="#222" stroke="#222" stroke-width="0.12">a</text>
<text transform="translate(280.0 290.2) rotate(-63)" font-family="Liberation Serif, serif" font-style="italic" font-size="4.4" text-anchor="end" fill="#1a1a1a" stroke="#1a1a1a" stroke-width="0.06">Zhonghua11</text>
<line x1="278.8" y1="286" x2="278.8" y2="287.6" stroke="#8c8c8c" stroke-width="0.45"/>
<rect x="289.65" y="196.85" width="6.5" height="89.15" fill="#fcc998" stroke="#e6975a" stroke-width="0.6"/>
<rect x="296.95" y="200.85" width="6.5" height="85.15" fill="#76d59a" stroke="#43b06e" stroke-width="0.6"/>
<path d="M292.9 196.1V197.1M291.8 196.1h2.2M291.8 197.1h2.2M292.3 196.6h1.2" stroke="#222" stroke-width="0.55" fill="none"/>
<path d="M300.2 200.1V201.1M299.1 200.1h2.2M299.1 201.1h2.2M299.6 200.6h1.2" stroke="#222" stroke-width="0.55" fill="none"/>
<text x="292.9" y="194.6" font-family="Liberation Serif, serif" font-size="5.3" text-anchor="middle" fill="#222" stroke="#222" stroke-width="0.12">c</text>
<text x="300.2" y="198.6" font-family="Liberation Serif, serif" font-size="5.3" text-anchor="middle" fill="#222" stroke="#222" stroke-width="0.12">ab</text>
<text transform="translate(297.8 290.2) rotate(-63)" font-family="Liberation Serif, serif" font-style="italic" font-size="4.4" text-anchor="end" fill="#1a1a1a" stroke="#1a1a1a" stroke-width="0.06">OsNCED3</text>
<line x1="296.6" y1="286" x2="296.6" y2="287.6" stroke="#8c8c8c" stroke-width="0.45"/>
<rect x="307.85" y="197.25" width="6.5" height="88.75" fill="#fcc998" stroke="#e6975a" stroke-width="0.6"/>
<rect x="315.15" y="200.45" width="6.5" height="85.55" fill="#76d59a" stroke="#43b06e" stroke-width="0.6"/>
<path d="M311.1 196.4V197.6M310.0 196.4h2.2M310.0 197.6h2.2M310.5 197.0h1.2" stroke="#222" stroke-width="0.55" fill="none"/>
<path d="M318.4 199.6V200.8M317.3 199.6h2.2M317.3 200.8h2.2M317.8 200.2h1.2" stroke="#222" stroke-width="0.55" fill="none"/>
<text x="311.1" y="194.9" font-family="Liberation Serif, serif" font-size="5.3" text-anchor="middle" fill="#222" stroke="#222" stroke-width="0.12">c</text>
<text x="318.4" y="198.1" font-family="Liberation Serif, serif" font-size="5.3" text-anchor="middle" fill="#222" stroke="#222" stroke-width="0.12">ab</text>
<text transform="translate(316.0 290.2) rotate(-63)" font-family="Liberation Serif, serif" font-style="italic" font-size="4.4" text-anchor="end" fill="#1a1a1a" stroke="#1a1a1a" stroke-width="0.06">OsNCED3 RNAi-1</text>
<line x1="314.8" y1="286" x2="314.8" y2="287.6" stroke="#8c8c8c" stroke-width="0.45"/>
<rect x="325.75" y="196.85" width="6.5" height="89.15" fill="#fcc998" stroke="#e6975a" stroke-width="0.6"/>
<rect x="333.05" y="205.25" width="6.5" height="80.75" fill="#76d59a" stroke="#43b06e" stroke-width="0.6"/>
<path d="M329.0 195.4V197.8M327.9 195.4h2.2M327.9 197.8h2.2M328.4 196.6h1.2" stroke="#222" stroke-width="0.55" fill="none"/>
<path d="M336.3 204.3V205.7M335.2 204.3h2.2M335.2 205.7h2.2M335.7 205.0h1.2" stroke="#222" stroke-width="0.55" fill="none"/>
<text x="329.0" y="193.9" font-family="Liberation Serif, serif" font-size="5.3" text-anchor="middle" fill="#222" stroke="#222" stroke-width="0.12">c</text>
<text x="336.3" y="202.8" font-family="Liberation Serif, serif" font-size="5.3" text-anchor="middle" fill="#222" stroke="#222" stroke-width="0.12">c</text>
<text transform="translate(333.9 290.2) rotate(-63)" font-family="Liberation Serif, serif" font-style="italic" font-size="4.4" text-anchor="end" fill="#1a1a1a" stroke="#1a1a1a" stroke-width="0.06">OsNCED3 RNAi-2</text>
<line x1="332.7" y1="286" x2="332.7" y2="287.6" stroke="#8c8c8c" stroke-width="0.45"/>
<rect x="343.65" y="195.65" width="6.5" height="90.35" fill="#fcc998" stroke="#e6975a" stroke-width="0.6"/>
<rect x="350.95" y="201.65" width="6.5" height="84.35" fill="#76d59a" stroke="#43b06e" stroke-width="0.6"/>
<path d="M346.9 194.8V196.0M345.8 194.8h2.2M345.8 196.0h2.2M346.3 195.4h1.2" stroke="#222" stroke-width="0.55" fill="none"/>
<path d="M354.2 200.0V202.8M353.1 200.0h2.2M353.1 202.8h2.2M353.6 201.4h1.2" stroke="#222" stroke-width="0.55" fill="none"/>
<text x="346.9" y="193.3" font-family="Liberation Serif, serif" font-size="5.3" text-anchor="middle" fill="#222" stroke="#222" stroke-width="0.12">b</text>
<text x="354.2" y="198.5" font-family="Liberation Serif, serif" font-size="5.3" text-anchor="middle" fill="#222" stroke="#222" stroke-width="0.12">b</text>
<text transform="translate(351.8 290.2) rotate(-63)" font-family="Liberation Serif, serif" font-style="italic" font-size="4.4" text-anchor="end" fill="#1a1a1a" stroke="#1a1a1a" stroke-width="0.06">OsABA 8ox3 RNAi-9</text>
<line x1="350.6" y1="286" x2="350.6" y2="287.6" stroke="#8c8c8c" stroke-width="0.45"/>
<rect x="361.65" y="197.25" width="6.5" height="88.75" fill="#fcc998" stroke="#e6975a" stroke-width="0.6"/>
<rect x="368.95" y="201.25" width="6.5" height="84.75" fill="#76d59a" stroke="#43b06e" stroke-width="0.6"/>
<path d="M364.9 196.6V197.4M363.8 196.6h2.2M363.8 197.4h2.2M364.3 197.0h1.2" stroke="#222" stroke-width="0.55" fill="none"/>
<path d="M372.2 199.6V202.4M371.1 199.6h2.2M371.1 202.4h2.2M371.6 201.0h1.2" stroke="#222" stroke-width="0.55" fill="none"/>
<text x="364.9" y="195.1" font-family="Liberation Serif, serif" font-size="5.3" text-anchor="middle" fill="#222" stroke="#222" stroke-width="0.12">c</text>
<text x="372.2" y="198.1" font-family="Liberation Serif, serif" font-size="5.3" text-anchor="middle" fill="#222" stroke="#222" stroke-width="0.12">ab</text>
<text transform="translate(369.8 290.2) rotate(-63)" font-family="Liberation Serif, serif" font-style="italic" font-size="4.4" text-anchor="end" fill="#1a1a1a" stroke="#1a1a1a" stroke-width="0.06">OsABA 8ox3 RNAi-27</text>
<line x1="368.6" y1="286" x2="368.6" y2="287.6" stroke="#8c8c8c" stroke-width="0.45"/>
<rect x="269.4" y="171.6" width="108.0" height="114.4" fill="none" stroke="#8c8c8c" stroke-width="0.8"/>
<line x1="267.7" y1="286.00" x2="269.4" y2="286.00" stroke="#8c8c8c" stroke-width="0.45"/>
<line x1="268.4" y1="274.56" x2="269.4" y2="274.56" stroke="#8c8c8c" stroke-width="0.4"/>
<text x="266.79999999999995" y="287.2" font-family="Liberation Serif, serif" font-size="3.9" text-anchor="end" fill="#222" stroke="#222" stroke-width="0.12">0.0</text>
<line x1="267.7" y1="263.12" x2="269.4" y2="263.12" stroke="#8c8c8c" stroke-width="0.45"/>
<line x1="268.4" y1="251.68" x2="269.4" y2="251.68" stroke="#8c8c8c" stroke-width="0.4"/>
<text x="266.79999999999995" y="264.4" font-family="Liberation Serif, serif" font-size="3.9" text-anchor="end" fill="#222" stroke="#222" stroke-width="0.12">0.5</text>
<line x1="267.7" y1="240.24" x2="269.4" y2="240.24" stroke="#8c8c8c" stroke-width="0.45"/>
<line x1="268.4" y1="228.80" x2="269.4" y2="228.80" stroke="#8c8c8c" stroke-width="0.4"/>
<text x="266.79999999999995" y="241.5" font-family="Liberation Serif, serif" font-size="3.9" text-anchor="end" fill="#222" stroke="#222" stroke-width="0.12">1.0</text>
<line x1="267.7" y1="217.36" x2="269.4" y2="217.36" stroke="#8c8c8c" stroke-width="0.45"/>
<line x1="268.4" y1="205.92" x2="269.4" y2="205.92" stroke="#8c8c8c" stroke-width="0.4"/>
<text x="266.79999999999995" y="218.6" font-family="Liberation Serif, serif" font-size="3.9" text-anchor="end" fill="#222" stroke="#222" stroke-width="0.12">1.5</text>
<line x1="267.7" y1="194.48" x2="269.4" y2="194.48" stroke="#8c8c8c" stroke-width="0.45"/>
<line x1="268.4" y1="183.04" x2="269.4" y2="183.04" stroke="#8c8c8c" stroke-width="0.4"/>
<text x="266.79999999999995" y="195.7" font-family="Liberation Serif, serif" font-size="3.9" text-anchor="end" fill="#222" stroke="#222" stroke-width="0.12">2.0</text>
<line x1="267.7" y1="171.60" x2="269.4" y2="171.60" stroke="#8c8c8c" stroke-width="0.45"/>
<text x="266.79999999999995" y="172.8" font-family="Liberation Serif, serif" font-size="3.9" text-anchor="end" fill="#222" stroke="#222" stroke-width="0.12">2.5</text>
<text transform="translate(259.6 231.0) rotate(-90)" font-family="Liberation Serif, serif" font-size="4.8" text-anchor="middle" fill="#1a1a1a" stroke="#1a1a1a" stroke-width="0.15">Grain Thick (mm)</text>
<rect x="352.3" y="173.6" width="24.9" height="8.6" fill="#fff" stroke="#b5b5b5" stroke-width="0.45"/>
<rect x="352.9" y="174.4" width="6.5" height="3.1" fill="#fcc998" stroke="#e6975a" stroke-width="0.6"/>
<rect x="352.9" y="178.6" width="6.5" height="3.1" fill="#76d59a" stroke="#43b06e" stroke-width="0.6"/>
<text x="360.6" y="176.87" font-family="Liberation Serif, serif" font-size="3.05" fill="#222" stroke="#222" stroke-width="0.06" textLength="16.4" lengthAdjust="spacingAndGlyphs">Superior grain</text>
<text x="360.6" y="181.06" font-family="Liberation Serif, serif" font-size="3.05" fill="#222" stroke="#222" stroke-width="0.06" textLength="14.92" lengthAdjust="spacingAndGlyphs">Inferior grain</text>
<text transform="translate(411.8 169.0) scale(0.87 1)" font-family="Liberation Serif, serif" font-weight="bold" font-size="18.7">E</text>
<rect x="442.25" y="192.65" width="6.5" height="93.35" fill="#fcc998" stroke="#e6975a" stroke-width="0.6"/>
<rect x="449.55" y="206.25" width="6.5" height="79.75" fill="#76d59a" stroke="#43b06e" stroke-width="0.6"/>
<path d="M445.5 191.4V193.4M444.4 191.4h2.2M444.4 193.4h2.2M444.9 192.4h1.2" stroke="#222" stroke-width="0.55" fill="none"/>
<path d="M452.8 203.4V208.6M451.7 203.4h2.2M451.7 208.6h2.2M452.2 206.0h1.2" stroke="#222" stroke-width="0.55" fill="none"/>
<text x="445.5" y="189.9" font-family="Liberation Serif, serif" font-size="6.0" text-anchor="middle" fill="#222" stroke="#222" stroke-width="0.12">bc</text>
<text x="452.8" y="201.9" font-family="Liberation Serif, serif" font-size="6.0" text-anchor="middle" fill="#222" stroke="#222" stroke-width="0.12">fg</text>
<text transform="translate(450.5 291.0) rotate(-63)" font-family="Liberation Serif, serif" font-style="italic" font-size="4.4" text-anchor="end" fill="#1a1a1a" stroke="#1a1a1a" stroke-width="0.06">Zhonghua11</text>
<line x1="449.2" y1="286" x2="449.2" y2="287.6" stroke="#6e6e6e" stroke-width="0.45"/>
<rect x="459.85" y="187.25" width="6.5" height="98.75" fill="#fcc998" stroke="#e6975a" stroke-width="0.6"/>
<rect x="467.15" y="200.25" width="6.5" height="85.75" fill="#76d59a" stroke="#43b06e" stroke-width="0.6"/>
<path d="M463.1 184.4V189.6M462.0 184.4h2.2M462.0 189.6h2.2M462.5 187.0h1.2" stroke="#222" stroke-width="0.55" fill="none"/>
<path d="M470.4 198.0V202.0M469.3 198.0h2.2M469.3 202.0h2.2M469.8 200.0h1.2" stroke="#222" stroke-width="0.55" fill="none"/>
<text x="463.1" y="182.9" font-family="Liberation Serif, serif" font-size="6.0" text-anchor="middle" fill="#222" stroke="#222" stroke-width="0.12">a</text>
<text x="470.4" y="196.5" font-family="Liberation Serif, serif" font-size="6.0" text-anchor="middle" fill="#222" stroke="#222" stroke-width="0.12">e</text>
<text transform="translate(468.1 291.0) rotate(-63)" font-family="Liberation Serif, serif" font-style="italic" font-size="4.4" text-anchor="end" fill="#1a1a1a" stroke="#1a1a1a" stroke-width="0.06">OsNCED3</text>
<line x1="466.8" y1="286" x2="466.8" y2="287.6" stroke="#6e6e6e" stroke-width="0.45"/>
<rect x="477.55" y="195.25" width="6.5" height="90.75" fill="#fcc998" stroke="#e6975a" stroke-width="0.6"/>
<rect x="484.85" y="206.65" width="6.5" height="79.35" fill="#76d59a" stroke="#43b06e" stroke-width="0.6"/>
<path d="M480.8 192.4V197.6M479.7 192.4h2.2M479.7 197.6h2.2M480.2 195.0h1.2" stroke="#222" stroke-width="0.55" fill="none"/>
<path d="M488.1 202.0V210.8M487.0 202.0h2.2M487.0 210.8h2.2M487.5 206.4h1.2" stroke="#222" stroke-width="0.55" fill="none"/>
<text x="480.8" y="190.9" font-family="Liberation Serif, serif" font-size="6.0" text-anchor="middle" fill="#222" stroke="#222" stroke-width="0.12">cd</text>
<text x="488.1" y="200.5" font-family="Liberation Serif, serif" font-size="6.0" text-anchor="middle" fill="#222" stroke="#222" stroke-width="0.12">g</text>
<text transform="translate(485.8 291.0) rotate(-63)" font-family="Liberation Serif, serif" font-style="italic" font-size="4.4" text-anchor="end" fill="#1a1a1a" stroke="#1a1a1a" stroke-width="0.06">OsNCED3 RNAi-1</text>
<line x1="484.5" y1="286" x2="484.5" y2="287.6" stroke="#6e6e6e" stroke-width="0.45"/>
<rect x="495.25" y="202.25" width="6.5" height="83.75" fill="#fcc998" stroke="#e6975a" stroke-width="0.6"/>
<rect x="502.55" y="213.65" width="6.5" height="72.35" fill="#76d59a" stroke="#43b06e" stroke-width="0.6"/>
<path d="M498.5 201.6V202.4M497.4 201.6h2.2M497.4 202.4h2.2M497.9 202.0h1.2" stroke="#222" stroke-width="0.55" fill="none"/>
<path d="M505.8 209.8V217.0M504.7 209.8h2.2M504.7 217.0h2.2M505.2 213.4h1.2" stroke="#222" stroke-width="0.55" fill="none"/>
<text x="498.5" y="200.1" font-family="Liberation Serif, serif" font-size="6.0" text-anchor="middle" fill="#222" stroke="#222" stroke-width="0.12">ef</text>
<text x="505.8" y="208.3" font-family="Liberation Serif, serif" font-size="6.0" text-anchor="middle" fill="#222" stroke="#222" stroke-width="0.12">h</text>
<text transform="translate(503.5 291.0) rotate(-63)" font-family="Liberation Serif, serif" font-style="italic" font-size="4.4" text-anchor="end" fill="#1a1a1a" stroke="#1a1a1a" stroke-width="0.06">OsNCED3 RNAi-2</text>
<line x1="502.2" y1="286" x2="502.2" y2="287.6" stroke="#6e6e6e" stroke-width="0.45"/>
<rect x="512.85" y="193.25" width="6.5" height="92.75" fill="#fcc998" stroke="#e6975a" stroke-width="0.6"/>
<rect x="520.15" y="200.85" width="6.5" height="85.15" fill="#76d59a" stroke="#43b06e" stroke-width="0.6"/>
<path d="M516.1 190.0V196.0M515.0 190.0h2.2M515.0 196.0h2.2M515.5 193.0h1.2" stroke="#222" stroke-width="0.55" fill="none"/>
<path d="M523.4 198.0V203.2M522.3 198.0h2.2M522.3 203.2h2.2M522.8 200.6h1.2" stroke="#222" stroke-width="0.55" fill="none"/>
<text x="516.1" y="188.5" font-family="Liberation Serif, serif" font-size="6.0" text-anchor="middle" fill="#222" stroke="#222" stroke-width="0.12">c</text>
<text x="523.4" y="196.5" font-family="Liberation Serif, serif" font-size="6.0" text-anchor="middle" fill="#222" stroke="#222" stroke-width="0.12">e</text>
<text transform="translate(521.1 291.0) rotate(-63)" font-family="Liberation Serif, serif" font-style="italic" font-size="4.4" text-anchor="end" fill="#1a1a1a" stroke="#1a1a1a" stroke-width="0.06">OsABA 8ox3 RNAi-9</text>
<line x1="519.8" y1="286" x2="519.8" y2="287.6" stroke="#6e6e6e" stroke-width="0.45"/>
<rect x="530.65" y="198.85" width="6.5" height="87.15" fill="#fcc998" stroke="#e6975a" stroke-width="0.6"/>
<rect x="537.95" y="210.65" width="6.5" height="75.35" fill="#76d59a" stroke="#43b06e" stroke-width="0.6"/>
<path d="M533.9 197.6V199.6M532.8 197.6h2.2M532.8 199.6h2.2M533.3 198.6h1.2" stroke="#222" stroke-width="0.55" fill="none"/>
<path d="M541.2 209.6V211.2M540.1 209.6h2.2M540.1 211.2h2.2M540.6 210.4h1.2" stroke="#222" stroke-width="0.55" fill="none"/>
<text x="533.9" y="196.1" font-family="Liberation Serif, serif" font-size="6.0" text-anchor="middle" fill="#222" stroke="#222" stroke-width="0.12">de</text>
<text x="541.2" y="208.1" font-family="Liberation Serif, serif" font-size="6.0" text-anchor="middle" fill="#222" stroke="#222" stroke-width="0.12">gh</text>
<text transform="translate(538.9 291.0) rotate(-63)" font-family="Liberation Serif, serif" font-style="italic" font-size="4.4" text-anchor="end" fill="#1a1a1a" stroke="#1a1a1a" stroke-width="0.06">OsABA 8ox3 RNAi-27</text>
<line x1="537.6" y1="286" x2="537.6" y2="287.6" stroke="#6e6e6e" stroke-width="0.45"/>
<rect x="440.2" y="171.5" width="106.09999999999997" height="114.5" fill="none" stroke="#6e6e6e" stroke-width="0.7"/>
<line x1="438.5" y1="286.00" x2="440.2" y2="286.00" stroke="#6e6e6e" stroke-width="0.45"/>
<line x1="439.2" y1="275.63" x2="440.2" y2="275.63" stroke="#6e6e6e" stroke-width="0.4"/>
<text x="437.59999999999997" y="287.6" font-family="Liberation Serif, serif" font-size="5.1" text-anchor="end" fill="#222" stroke="#222" stroke-width="0.12">0.00</text>
<line x1="438.5" y1="265.26" x2="440.2" y2="265.26" stroke="#6e6e6e" stroke-width="0.45"/>
<line x1="439.2" y1="254.89" x2="440.2" y2="254.89" stroke="#6e6e6e" stroke-width="0.4"/>
<text x="437.59999999999997" y="266.9" font-family="Liberation Serif, serif" font-size="5.1" text-anchor="end" fill="#222" stroke="#222" stroke-width="0.12">0.05</text>
<line x1="438.5" y1="244.52" x2="440.2" y2="244.52" stroke="#6e6e6e" stroke-width="0.45"/>
<line x1="439.2" y1="234.15" x2="440.2" y2="234.15" stroke="#6e6e6e" stroke-width="0.4"/>
<text x="437.59999999999997" y="246.2" font-family="Liberation Serif, serif" font-size="5.1" text-anchor="end" fill="#222" stroke="#222" stroke-width="0.12">0.10</text>
<line x1="438.5" y1="223.78" x2="440.2" y2="223.78" stroke="#6e6e6e" stroke-width="0.45"/>
<line x1="439.2" y1="213.41" x2="440.2" y2="213.41" stroke="#6e6e6e" stroke-width="0.4"/>
<text x="437.59999999999997" y="225.4" font-family="Liberation Serif, serif" font-size="5.1" text-anchor="end" fill="#222" stroke="#222" stroke-width="0.12">0.15</text>
<line x1="438.5" y1="203.04" x2="440.2" y2="203.04" stroke="#6e6e6e" stroke-width="0.45"/>
<line x1="439.2" y1="192.67" x2="440.2" y2="192.67" stroke="#6e6e6e" stroke-width="0.4"/>
<text x="437.59999999999997" y="204.7" font-family="Liberation Serif, serif" font-size="5.1" text-anchor="end" fill="#222" stroke="#222" stroke-width="0.12">0.20</text>
<line x1="438.5" y1="182.30" x2="440.2" y2="182.30" stroke="#6e6e6e" stroke-width="0.45"/>
<text x="437.59999999999997" y="183.9" font-family="Liberation Serif, serif" font-size="5.1" text-anchor="end" fill="#222" stroke="#222" stroke-width="0.12">0.25</text>
<text transform="translate(426.8 229.0) rotate(-90)" font-family="Liberation Serif, serif" font-size="6.0" text-anchor="middle" fill="#1a1a1a" stroke="#1a1a1a" stroke-width="0.15">10 Grain Weight (g)</text>
<rect x="518.3" y="172.7" width="27.5" height="12.4" fill="#fff" stroke="#b5b5b5" stroke-width="0.45"/>
<rect x="519.0" y="173.5" width="9.0" height="4.7" fill="#fcc998" stroke="#e6975a" stroke-width="0.6"/>
<rect x="519.0" y="180.0" width="9.0" height="4.7" fill="#76d59a" stroke="#43b06e" stroke-width="0.6"/>
<text x="530.1" y="177.14" font-family="Liberation Serif, serif" font-size="4.3" fill="#222" stroke="#222" stroke-width="0.06" textLength="14.8" lengthAdjust="spacingAndGlyphs">Superior</text>
<text x="530.1" y="183.64" font-family="Liberation Serif, serif" font-size="4.3" fill="#222" stroke="#222" stroke-width="0.06" textLength="12.73" lengthAdjust="spacingAndGlyphs">Inferior</text>
</svg></body></html>
